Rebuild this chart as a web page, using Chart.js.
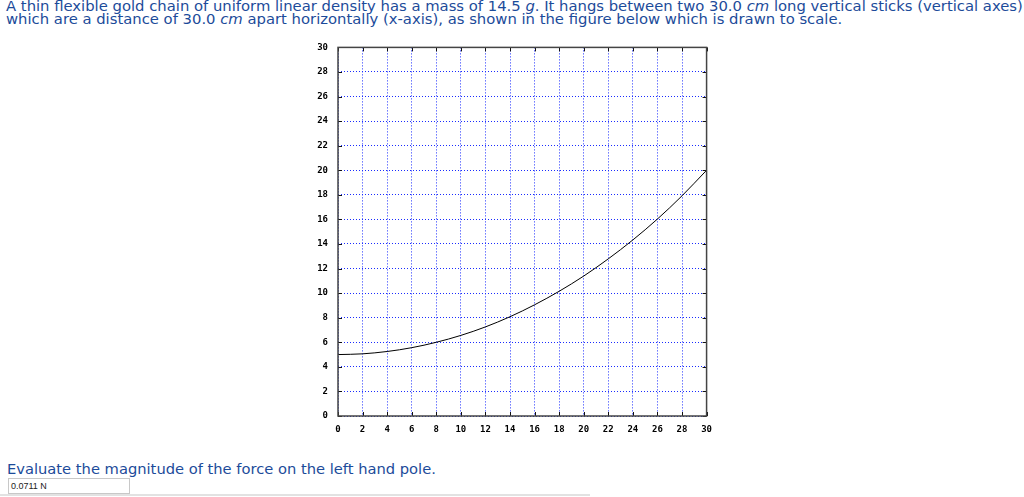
<!DOCTYPE html>
<html>
<head>
<meta charset="utf-8">
<script src="https://cdn.jsdelivr.net/npm/chart.js@4"></script>
<style>
  body{margin:0;background:#fff;width:1024px;height:497px;overflow:hidden;position:relative;font-family:"DejaVu Sans",Verdana,sans-serif;}
  .q{position:absolute;left:6px;color:#1c4b9a;font-size:14.8px;line-height:13px;white-space:nowrap;}
  #q1{top:-1px;}
  #q1 span{display:block;}
  #q2{top:461px;left:7px;font-size:14.7px;line-height:15px;}
  #box{position:absolute;left:8px;top:478px;width:118px;height:14px;border:1px solid #c8c8c8;font-family:"Liberation Sans",Arial,sans-serif;font-size:9px;line-height:14px;padding-left:2px;color:#222;}
  #rule{position:absolute;left:0;top:494px;width:590px;height:2px;background:#e2e2e2;}
  #wrap{position:absolute;left:290px;top:32px;width:430px;height:415px;}
</style>
</head>
<body>
<div class="q" id="q1"><span>A thin flexible gold chain of uniform linear density has a mass of 14.5 <i>g</i>. It hangs between two 30.0 <i>cm</i> long vertical sticks (vertical axes)</span><span>which are a distance of 30.0 <i>cm</i> apart horizontally (x-axis), as shown in the figure below which is drawn to scale.</span></div>
<div id="wrap"><canvas id="c"></canvas></div>
<div class="q" id="q2">Evaluate the magnitude of the force on the left hand pole.</div>
<div id="box">0.0711 N</div>
<div id="rule"></div>
<script>
// --- data ---
const xs=[0,2,4,6,8,10,12,14,16,18,20,22,24,26,28,30];
const ys=[5,5.06,5.25,5.56,6.0,6.56,7.25,8.08,9.05,10.15,11.39,12.79,14.33,16.03,17.92,20];
const xTicks=[0,2,4,6,8,10,12,14,16,18,20,22,24,26,28,30];
const yTicks=[0,2,4,6,8,10,12,14,16,18,20,22,24,26,28,30];

const tickFont={family:"DejaVu Sans Mono",size:9,weight:"bold"};

// frame + inward tick marks
const framePlugin={
  id:"frame",
  afterDraw(ch){
    const c=ch.ctx,a=ch.chartArea,sx=ch.scales.x,sy=ch.scales.y;
    c.save();
    c.strokeStyle="#111";c.lineWidth=1;
    xTicks.forEach(v=>{
      const p=Math.round(sx.getPixelForValue(v))+0.5;
      c.beginPath();c.moveTo(p,a.bottom);c.lineTo(p,a.bottom-4);
      c.moveTo(p,a.top);c.lineTo(p,a.top+4);c.stroke();
    });
    yTicks.forEach(v=>{
      const p=Math.round(sy.getPixelForValue(v))+0.5;
      c.beginPath();c.moveTo(a.left,p);c.lineTo(a.left+4,p);
      c.moveTo(a.right,p);c.lineTo(a.right-4,p);c.stroke();
    });
    c.strokeStyle="#444";c.lineWidth=1.5;
    c.strokeRect(a.left,a.top,a.right-a.left,a.bottom-a.top);
    c.restore();
  }
};

new Chart(document.getElementById("c"),{
  type:"line",
  data:{datasets:[{
    data:xs.map((x,i)=>({x:x,y:ys[i]})),
    borderColor:"#000",borderWidth:1,pointRadius:0,
    cubicInterpolationMode:"monotone",fill:false
  }]},
  options:{
    responsive:true,maintainAspectRatio:false,animation:false,
    layout:{padding:{top:5,right:13,left:0,bottom:0}},
    plugins:{legend:{display:false},tooltip:{enabled:false}},
    scales:{
      x:{type:"linear",min:0,max:30,
        afterBuildTicks:s=>{s.ticks=xTicks.map(v=>({value:v}));},
        afterFit:s=>{s.height=31;},
        grid:{color:"#1a2cff",lineWidth:1,drawTicks:false},
        border:{display:false,dash:[1,2]},
        ticks:{font:tickFont,color:"#000",padding:8,maxRotation:0,autoSkip:false}
      },
      y:{type:"linear",min:0,max:30,
        afterBuildTicks:s=>{s.ticks=yTicks.map(v=>({value:v}));},
        afterFit:s=>{s.width=48;},
        grid:{color:"#1a2cff",lineWidth:1,drawTicks:false},
        border:{display:false,dash:[1,2]},
        ticks:{font:tickFont,color:"#000",padding:10,autoSkip:false}
      }
    }
  },
  plugins:[framePlugin]
});
</script>
</body>
</html>
